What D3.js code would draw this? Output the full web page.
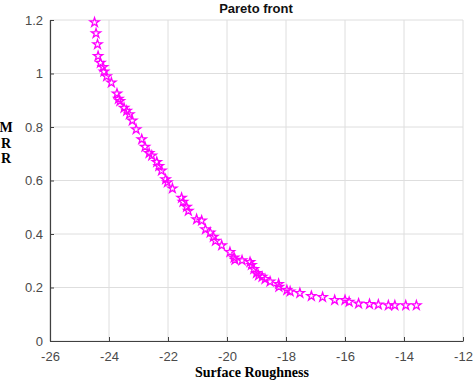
<!DOCTYPE html>
<html><head><meta charset="utf-8">
<script src="https://cdn.jsdelivr.net/npm/d3@7"></script>
<style>body{margin:0;background:#fff}svg{display:block}</style>
</head><body>
<svg id="c" width="474" height="381"></svg>
<script>
const surfaceRoughness = [-24.49,-24.44,-24.39,-24.37,-24.29,-24.20,-24.17,-24.08,-23.92,-23.73,-23.68,-23.63,-23.49,-23.40,-23.31,-23.21,-23.08,-22.89,-22.78,-22.64,-22.55,-22.38,-22.31,-22.22,-22.08,-22.02,-21.85,-21.54,-21.49,-21.37,-21.31,-21.03,-20.86,-20.73,-20.57,-20.46,-20.39,-20.18,-19.90,-19.76,-19.73,-19.49,-19.22,-19.17,-19.09,-19.00,-18.93,-18.81,-18.71,-18.54,-18.25,-18.24,-17.97,-17.86,-17.53,-17.14,-16.76,-16.35,-16.00,-15.86,-15.54,-15.17,-14.87,-14.53,-14.31,-13.94,-13.58];
const mrr = [1.191,1.150,1.109,1.065,1.040,1.024,1.007,0.989,0.966,0.925,0.905,0.897,0.871,0.860,0.847,0.824,0.791,0.754,0.726,0.702,0.693,0.669,0.654,0.637,0.604,0.593,0.570,0.535,0.520,0.501,0.486,0.455,0.450,0.417,0.405,0.389,0.374,0.357,0.332,0.312,0.303,0.301,0.295,0.284,0.269,0.254,0.245,0.240,0.231,0.222,0.213,0.202,0.190,0.185,0.179,0.168,0.164,0.153,0.153,0.146,0.140,0.138,0.136,0.133,0.133,0.133,0.133];
const xTicks = [-26,-24,-22,-20,-18,-16,-14,-12];
const yTicks = [0,0.2,0.4,0.6,0.8,1,1.2];

const svg = d3.select("#c");
const L=50,R=463,T=20,B=341;
const x = d3.scaleLinear().domain([-26,-12]).range([L,R]);
const y = d3.scaleLinear().domain([0,1.2]).range([B,T]);

// grid
svg.append("g").selectAll("line").data(xTicks).join("line")
  .attr("x1",d=>x(d)).attr("x2",d=>x(d)).attr("y1",T).attr("y2",B)
  .attr("stroke","#dedede").attr("stroke-width",1);
svg.append("g").selectAll("line").data(yTicks).join("line")
  .attr("y1",d=>y(d)).attr("y2",d=>y(d)).attr("x1",L).attr("x2",R)
  .attr("stroke","#dedede").attr("stroke-width",1);

// axes
const fmt = d=> d===0?"0":String(d);
const gx = svg.append("g").attr("transform",`translate(0,${B})`)
  .call(d3.axisBottom(x).tickValues(xTicks).tickFormat(fmt).tickSizeInner(-4).tickSizeOuter(0).tickPadding(8));
const gy = svg.append("g").attr("transform",`translate(${L},0)`)
  .call(d3.axisLeft(y).tickValues(yTicks).tickFormat(fmt).tickSizeInner(-4).tickSizeOuter(0).tickPadding(7));
[gx,gy].forEach(g=>{
  g.select(".domain").attr("stroke","#404040").attr("stroke-width",1.2);
  g.selectAll(".tick line").attr("stroke","#404040");
  g.selectAll("text").attr("fill","#4a4a4a").style("font-family","'Liberation Sans',Arial,sans-serif").style("font-size","13px");
});
gx.selectAll("text").attr("dy","0.9em");

// stars
const star = d3.symbol().type(d3.symbolStar).size(26);
svg.append("g").selectAll("path").data(surfaceRoughness).join("path")
  .attr("d",star)
  .attr("transform",(d,i)=>`translate(${x(d)},${y(mrr[i])})`)
  .attr("fill","none").attr("stroke","#ff00ff").attr("stroke-width",1.3);

// title
svg.append("text").attr("x",256).attr("y",13).attr("text-anchor","middle")
  .style("font-family","'Liberation Sans',Arial,sans-serif").style("font-weight","bold").style("font-size","13px")
  .attr("fill","#111").text("Pareto front");

// x label
svg.append("text").attr("x",252).attr("y",377).attr("text-anchor","middle")
  .style("font-family","'Liberation Serif','Times New Roman',serif").style("font-weight","bold").style("font-size","14px")
  .attr("fill","#000").text("Surface Roughness");

// y label stacked
const yl = ["M","R","R"];
svg.append("g").selectAll("text").data(yl).join("text")
  .attr("x",6).attr("y",(d,i)=>132+i*15.5).attr("text-anchor","middle")
  .style("font-family","'Liberation Serif','Times New Roman',serif").style("font-weight","bold").style("font-size","14px")
  .attr("fill","#000").text(d=>d);
</script>
</body></html>
